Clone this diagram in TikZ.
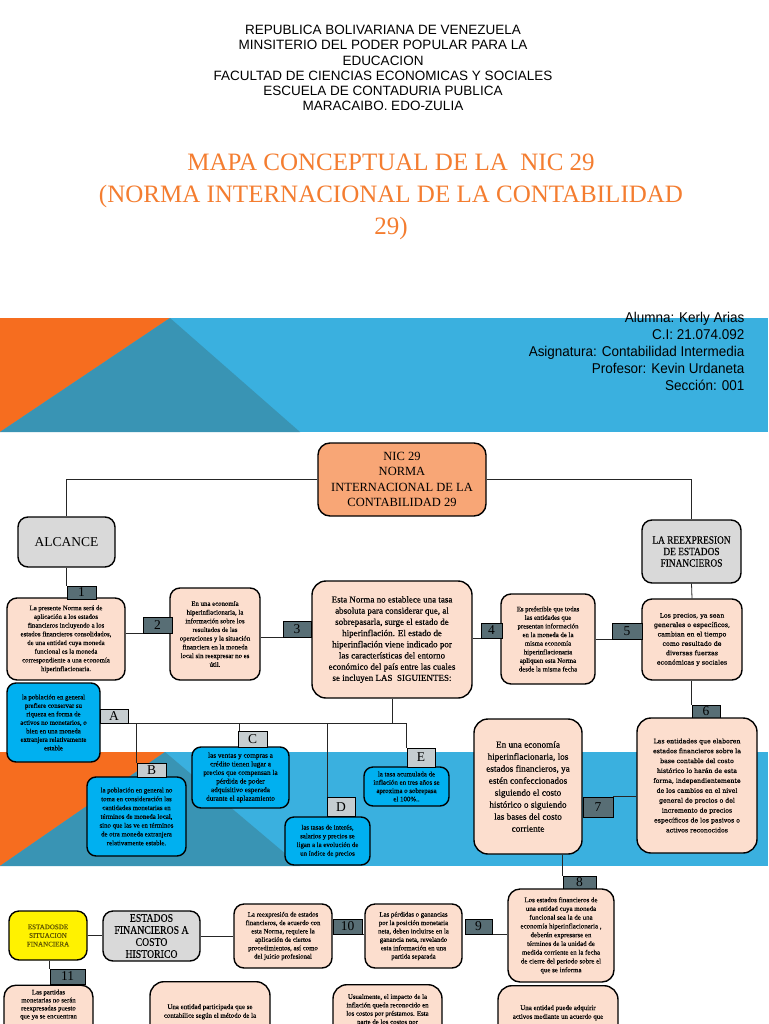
\documentclass[tikz,border=0pt]{standalone}
\usepackage{fontspec}
\setmainfont{Liberation Serif}
\newfontfamily\hdrfont{Liberation Sans}
\newfontfamily\narrowfont[FakeStretch=0.95]{Liberation Sans}
\newfontfamily\condserif[FakeStretch=0.85,FakeBold=0.3]{Liberation Serif}
\newfontfamily\wideserif[FakeBold=0.3]{DejaVu Serif}
\newfontfamily\boxserif[FakeBold=0.35]{Liberation Serif}
\newcommand\szs[2]{\fontsize{#1}{#2}\selectfont}
\definecolor{bandblue}{RGB}{58,176,223}
\definecolor{bandteal}{RGB}{57,148,180}
\definecolor{bandorange}{RGB}{246,109,31}
\definecolor{titleorange}{RGB}{244,125,48}
\definecolor{nicc}{RGB}{248,166,118}
\definecolor{peachc}{RGB}{252,222,206}
\definecolor{grayc}{RGB}{217,217,217}
\definecolor{bluec}{RGB}{0,176,240}
\definecolor{tagdark}{RGB}{88,110,117}
\definecolor{taglight}{RGB}{198,205,208}
\definecolor{yellowtext}{RGB}{95,85,0}
\pgfdeclarelayer{bg}
\pgfdeclarelayer{mid}
\pgfsetlayers{bg,mid,main}
\begin{document}
\begin{tikzpicture}[x=1pt,y=-1pt,
  cbox/.style={draw=black, line width=1.4pt, rounded corners=10pt, align=center, inner sep=1pt},
  peach/.style={cbox, fill=peachc},
  bluebox/.style={cbox, fill=bluec, rounded corners=9pt},
  graybox/.style={cbox, fill=grayc},
  numtag/.style={draw=black, line width=0.8pt, fill=tagdark, inner sep=0pt, font={\szs{13.5}{13}}},
  lettag/.style={draw=black, line width=0.8pt, fill=taglight, inner sep=0pt, font={\szs{13.5}{13}}},
  conn/.style={draw=black!85, line width=0.8pt},
  ptxt/.style={align=center, inner sep=0pt}
]
\useasboundingbox (0,0) rectangle (768,1024);
\clip (0,0) rectangle (768,1024);

\begin{pgfonlayer}{bg}
\fill[white] (0,0) rectangle (768,1024);
% band 1
\fill[bandblue] (0,318) rectangle (768,432);
\fill[bandorange] (0,318) -- (170,318) -- (0,432) -- cycle;
\fill[bandteal] (170,318) -- (300,432) -- (0,432) -- cycle;
% band 2
\fill[bandblue] (0,752) rectangle (768,866);
\fill[bandorange] (0,752) -- (165,752) -- (0,866) -- cycle;
\fill[bandteal] (165,752) -- (300,866) -- (0,866) -- cycle;
\end{pgfonlayer}

% header
\node[font={\hdrfont\szs{13.5}{15.2}}, align=center] (hdr) at (383,68)
  {REPUBLICA BOLIVARIANA DE VENEZUELA\\MINSITERIO DEL PODER POPULAR PARA LA\\EDUCACION\\FACULTAD DE CIENCIAS ECONOMICAS Y SOCIALES\\ESCUELA DE CONTADURIA PUBLICA\\MARACAIBO. EDO-ZULIA};
\node[font={\szs{25}{32}}, text=titleorange, align=center] (title) at (391,197)
  {MAPA CONCEPTUAL DE LA\ \ NIC 29\\(NORMA INTERNACIONAL DE LA CONTABILIDAD\\29)};
\node[font={\narrowfont\szs{14.2}{17}}, align=right, anchor=east] (info) at (748,351)
  {Alumna: Kerly Arias\\C.I: 21.074.092\\Asignatura: Contabilidad Intermedia\\Profesor: Kevin Urdaneta\\Sección: 001};

% top level
\node[cbox, fill=nicc, rounded corners=12pt, minimum width=168pt, minimum height=73pt, font={\szs{12.5}{15.5}}] (nic) at (402,479.5)
  {NIC 29\\NORMA\\INTERNACIONAL DE LA\\CONTABILIDAD 29};
\node[graybox, minimum width=97pt, minimum height=50pt, font={\szs{13.5}{15}}] (alc) at (66.5,542) {ALCANCE};
\node[graybox, minimum width=99pt, minimum height=63pt, font={\condserif\szs{11}{11.5}}] (reexp) at (691.5,551.5)
  {LA REEXPRESION\\DE ESTADOS\\FINANCIEROS};

% row 1
\node[peach, minimum width=118pt, minimum height=82pt, font={\boxserif\szs{6.8}{8.7}}] (b1) at (66,639)
  {La presente Norma será de\\aplicación a los estados\\financieros incluyendo a los\\estados financieros consolidados,\\de una entidad cuya moneda\\funcional es la moneda\\correspondiente a una economía\\hiperinflacionaria.};
\node[peach, minimum width=90pt, minimum height=92pt, font={\boxserif\szs{6.8}{8.7}}] (b2) at (215,634)
  {En una economía\\hiperinflacionaria, la\\información sobre los\\resultados de las\\operaciones y la situación\\financiera en la moneda\\local sin reexpresar no es\\útil.};
\node[peach, rounded corners=14pt, minimum width=160pt, minimum height=117pt, font={\boxserif\szs{9}{11.2}}] (b3) at (392,639.5)
  {Esta Norma no establece una tasa\\absoluta para considerar que, al\\sobrepasarla, surge el estado de\\hiperinflación. El estado de\\hiperinflación viene indicado por\\las características del entorno\\económico del país entre las cuales\\se incluyen LAS\ \ SIGUIENTES:};
\node[peach, minimum width=94pt, minimum height=90pt, font={\boxserif\szs{6.8}{8.6}}] (b4) at (548,639)
  {Es preferible que todas\\las entidades que\\presentan información\\en la moneda de la\\misma economía\\hiperinflacionaria\\apliquen esta Norma\\desde la misma fecha};
\node[peach, minimum width=100pt, minimum height=81pt, font={\wideserif\szs{6.3}{9.4}}] (b5) at (692,639.5)
  {Los precios, ya sean\\generales o específicos,\\cambian en el tiempo\\como resultado de\\diversas fuerzas\\económicas y sociales};

% tags row 1
\node[numtag, minimum width=29pt, minimum height=13pt] (t1) at (81.5,592.5) {1};
\node[numtag, minimum width=29pt, minimum height=16pt] (t2) at (157.5,625) {2};
\node[numtag, minimum width=28pt, minimum height=16pt] (t3) at (297,629) {3};
\node[numtag, minimum width=21pt, minimum height=15pt] (t4) at (491.5,630.5) {4};
\node[numtag, minimum width=30pt, minimum height=16pt] (t5) at (627,631) {5};

% right column
\node[numtag, minimum width=28pt, minimum height=13pt] (t6) at (706,711.5) {6};
\node[peach, rounded corners=14pt, minimum width=120pt, minimum height=135pt, font={\wideserif\szs{6.2}{9.9}}] (b6) at (697,785.5)
  {Las entidades que elaboren\\estados financieros sobre la\\base contable del costo\\histórico lo harán de esta\\forma, independientemente\\de los cambios en el nivel\\general de precios o del\\incremento de precios\\específicos de los pasivos o\\activos reconocidos};
\node[peach, rounded corners=14pt, minimum width=108pt, minimum height=135pt, font={\boxserif\szs{9.2}{12}}] (b7) at (528,786.5)
  {En una economía\\hiperinflacionaria, los\\estados financieros, ya\\estén confeccionados\\siguiendo el costo\\histórico o siguiendo\\las bases del costo\\corriente};
\node[numtag, minimum width=30pt, minimum height=20pt] (t7) at (598,807) {7};
\node[numtag, minimum width=33pt, minimum height=13pt] (t8) at (579.5,882.5) {8};
\node[peach, rounded corners=12pt, minimum width=106pt, minimum height=93pt, font={\boxserif\szs{6.9}{8.75}}] (b8) at (561,935.5)
  {Los estados financieros de\\una entidad cuya moneda\\funcional sea la de una\\economía hiperinflacionaria ,\\deberán expresarse en\\términos de la unidad de\\medida corriente en la fecha\\de cierre del periodo sobre el\\que se informa};

% blue boxes
\node[bluebox, minimum width=93pt, minimum height=79pt, font={\boxserif\szs{6.8}{8.5}}] (ba) at (53.5,722.5)
  {la población en general\\prefiere conservar su\\riqueza en forma de\\activos no monetarios, o\\bien en una moneda\\extranjera relativamente\\estable};
\node[bluebox, minimum width=99pt, minimum height=79pt, font={\boxserif\szs{6.8}{8.8}}] (bb) at (136.5,816.5)
  {la población en general no\\toma en consideración las\\cantidades monetarias en\\términos de moneda local,\\sino que las ve en términos\\de otra moneda extranjera\\relativamente estable.};
\node[bluebox, minimum width=97pt, minimum height=61pt, font={\boxserif\szs{7.2}{8.6}}] (bc) at (240.5,777.5)
  {las ventas y compras a\\crédito tienen lugar a\\precios que compensan la\\pérdida de poder\\adquisitivo esperada\\durante el aplazamiento};
\node[bluebox, minimum width=85pt, minimum height=48pt, font={\boxserif\szs{6.8}{8.7}}] (bd) at (327.5,841)
  {las tasas de interés,\\salarios y precios se\\ligan a la evolución de\\un índice de precios};
\node[bluebox, minimum width=85pt, minimum height=39pt, font={\boxserif\szs{6.9}{8.3}}] (be) at (406.5,786.5)
  {la tasa acumulada de\\inflación en tres años se\\aproxima o sobrepasa\\el 100\%..};
\node[lettag, minimum width=28pt, minimum height=14pt] (ta) at (114,716) {A};
\node[lettag, minimum width=29pt, minimum height=14pt] (tb) at (151.5,770) {B};
\node[lettag, minimum width=29pt, minimum height=16pt] (tc) at (252.5,739) {C};
\node[lettag, minimum width=28pt, minimum height=19pt] (td) at (341,807) {D};
\node[lettag, minimum width=28pt, minimum height=19pt] (te) at (421,757.5) {E};

% bottom row
\node[cbox, fill=yellow, minimum width=78pt, minimum height=49pt, text=yellowtext, font={\boxserif\szs{7}{8.6}}] (ys) at (48,935.5)
  {ESTADOSDE\\SITUACION\\FINANCIERA};
\node[graybox, minimum width=97pt, minimum height=50pt, font={\condserif\szs{11.5}{12}}] (efch) at (151.5,936)
  {ESTADOS\\FINANCIEROS A\\COSTO\\HISTORICO};
\node[peach, minimum width=98pt, minimum height=64pt, font={\boxserif\szs{6.8}{8.4}}] (b10) at (283,936)
  {La reexpresión de estados\\financieros, de acuerdo con\\esta Norma, requiere la\\aplicación de ciertos\\procedimientos, así como\\del juicio profesional};
\node[peach, minimum width=97pt, minimum height=64pt, font={\boxserif\szs{6.8}{8.4}}] (b9) at (413.5,936)
  {Las pérdidas o ganancias\\por la posición monetaria\\neta, deben incluirse en la\\ganancia neta, revelando\\esta información en una\\partida separada};
\node[numtag, minimum width=29pt, minimum height=15pt] (t10) at (347.5,926.5) {10};
\node[numtag, minimum width=27pt, minimum height=15pt] (t9) at (478.5,926.5) {9};
\node[numtag, minimum width=35pt, minimum height=15pt] (t11) at (67.5,976.5) {11};

% cut-off boxes at the bottom
\node[peach, rounded corners=12pt, minimum width=89pt, minimum height=80pt, anchor=north] (b11) at (48.5,984.5) {};
\node[ptxt, font={\boxserif\szs{6.8}{8}}, anchor=north] (b11t) at ([yshift=-5pt]b11.north)
  {Las partidas\\monetarias no serán\\reexpresadas puesto\\que ya se encuentran};
\node[peach, rounded corners=14pt, minimum width=120pt, minimum height=80pt, anchor=north] (b12) at (210,981) {};
\node[ptxt, font={\boxserif\szs{6.9}{8.8}}, anchor=north] (b12t) at ([yshift=-23pt]b12.north)
  {Una entidad participada que se\\contabilice según el método de la};
\node[peach, rounded corners=14pt, minimum width=109pt, minimum height=80pt, anchor=north] (b13) at (387.5,984) {};
\node[ptxt, font={\boxserif\szs{6.8}{8.4}}, anchor=north] (b13t) at ([yshift=-10pt]b13.north)
  {Usualmente, el impacto de la\\inflación queda reconocido en\\los costos por préstamos. Esta\\parte de los costos por};
\node[peach, rounded corners=14pt, minimum width=120pt, minimum height=80pt, anchor=north] (b14) at (558,985) {};
\node[ptxt, font={\boxserif\szs{6.9}{8.8}}, anchor=north] (b14t) at ([yshift=-20pt]b14.north)
  {Una entidad puede adquirir\\activos mediante un acuerdo que};

% connectors
\begin{pgfonlayer}{mid}
\draw[conn] (nic.west) -| (alc.north);
\draw[conn] (nic.east) -| (reexp.north);
\draw[conn] (t1.north west |- alc.south) -- (t1.north west);
\draw[conn] (b1.east |- t2.south) -- (t2.south west);
\draw[conn] (b2.east |- t3.south) -- (t3.south west);
\draw[conn] (b3.east |- t4.south) -- (t4.south west);
\draw[conn] (b4.east |- t5.south) -- (t5.south west);
\draw[conn] (reexp.south) -- (b5.north);
\draw[conn] (t6.north west |- b5.south) -- (t6.north west);
\draw[conn] (t7.north east) -- (t7.north east -| b6.west);
\draw[conn] (t8.north west |- b7.south) -- (t8.north west);
\draw[conn] (t9.south east) -- (t9.south east -| b8.west);
\draw[conn] (b10.east |- t10.south) -- (t10.south east -| b9.west);
\draw[conn] (efch.east) -- (efch.east -| b10.west);
\draw[conn] (ys.east) -- (ys.east -| efch.west);
\draw[conn] (t11.north west |- ys.south) -- (t11.north west);
% blue hub
\coordinate (hub) at (b3.south |- ta.south east);
\draw[conn] (b3.south) -- (hub);
\draw[conn] (ta.south east) -- (ta.south east -| te.north west) -- (te.north west);
\draw[conn] (ta.south east -| tb.north west) -- (tb.north west);
\draw[conn] ([xshift=2pt]ta.south east -| tc.north west) -- ([xshift=2pt]tc.north west);
\draw[conn] ([xshift=1pt]ta.south east -| td.north west) -- ([xshift=1pt]td.north west);
\end{pgfonlayer}
\end{tikzpicture}
\end{document}
